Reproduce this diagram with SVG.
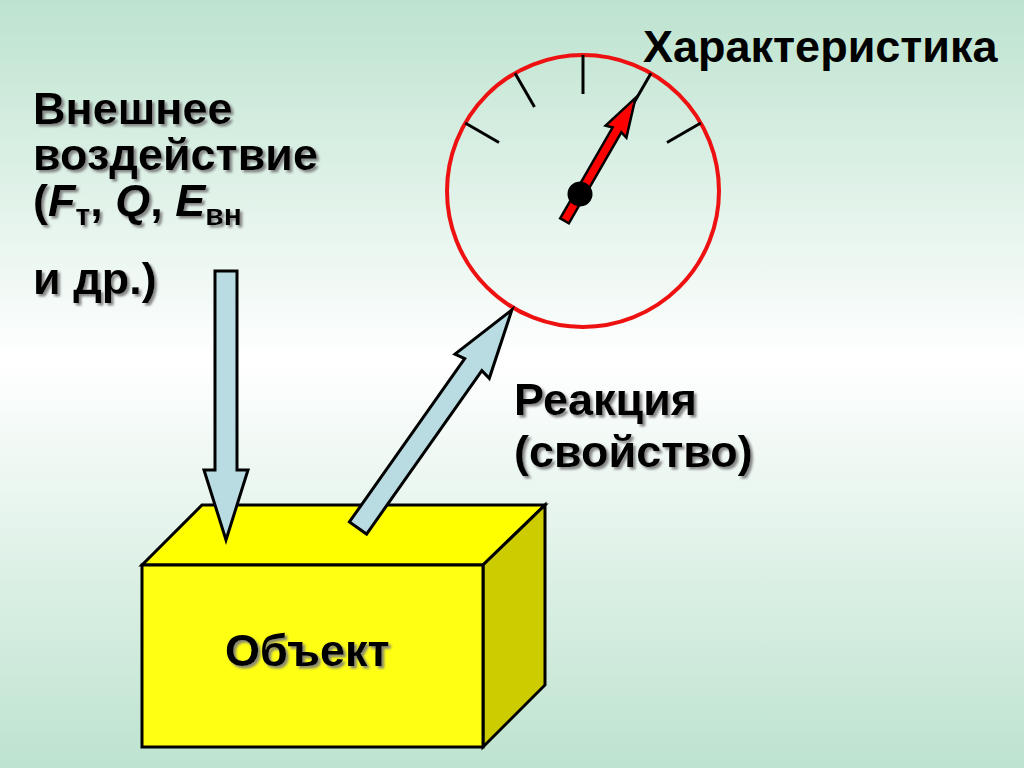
<svg xmlns="http://www.w3.org/2000/svg" width="1024" height="768" viewBox="0 0 1024 768">
  <defs>
    <linearGradient id="bg" x1="0" y1="0" x2="0" y2="1">
      <stop offset="0" stop-color="#bde3cf"/>
      <stop offset="0.47" stop-color="#ffffff"/>
      <stop offset="1" stop-color="#bde3cf"/>
    </linearGradient>
    <filter id="shadow" x="-5%" y="-5%" width="115%" height="130%">
      <feDropShadow dx="2.5" dy="2.5" stdDeviation="0.8" flood-color="#7a7a7a" flood-opacity="0.9"/>
    </filter>
  </defs>
  <style>
    .t { font-family: "Liberation Sans", Arial, sans-serif; font-weight: bold; font-size: 45px; fill: #000; }
    .sh { filter: url(#shadow); }
    .edge { stroke: #000; stroke-width: 3; stroke-linejoin: miter; }
    .blue { fill: #b9dce3; stroke: #000; stroke-width: 3; stroke-linejoin: miter; }
    .tick { stroke: #000; stroke-width: 3; }
  </style>

  <rect x="0" y="0" width="1024" height="768" fill="url(#bg)"/>

  <g id="object">
    <polygon class="edge" fill="#ffff00" points="142,565 202,505 545,505 483,565"/>
    <polygon class="edge" fill="#cccc00" points="483,565 545,505 545,685 483,747"/>
    <rect class="edge" fill="#ffff14" x="142" y="565" width="341" height="182"/>
    <text class="t sh" x="225" y="666">Объект</text>
  </g>

  <g id="gauge">
    <circle cx="583" cy="191" r="136" fill="none" stroke="#ee1111" stroke-width="4"/>
    <g transform="translate(583,191)">
      <line class="tick" x1="0" y1="-97" x2="0" y2="-136"/>
      <line class="tick" x1="0" y1="-97" x2="0" y2="-136" transform="rotate(-30)"/>
      <line class="tick" x1="0" y1="-97" x2="0" y2="-136" transform="rotate(-60)"/>
      <line class="tick" x1="0" y1="-97" x2="0" y2="-136" transform="rotate(30)"/>
      <line class="tick" x1="0" y1="-97" x2="0" y2="-136" transform="rotate(60)"/>
    </g>
    <g transform="translate(580,194) rotate(-60)">
      <polygon fill="#ff0000" stroke="#000" stroke-width="2.5" stroke-linejoin="miter" points="-31,-5 74,-5 72,-12 111,0 72,12 74,5 -31,5"/>
      <circle cx="0" cy="0" r="12.5" fill="#000"/>
    </g>
  </g>

  <g id="connectors">
    <polygon class="blue" points="215,271 237,271 237,470 248,470 226,540 204,470 215,470"/>
    <g transform="translate(358,528) rotate(-54.8)">
      <polygon class="blue" points="0,-10.5 200,-10.5 198,-21 267,0 198,21 200,10.5 0,10.5"/>
    </g>
  </g>

  <g id="label-influence">
    <text class="t sh">
      <tspan x="33" y="124">Внешнее</tspan>
      <tspan x="33" y="170">воздействие</tspan>
      <tspan x="33" y="216">(<tspan font-style="italic">F</tspan><tspan font-size="30" dy="9">т</tspan><tspan dy="-9">, </tspan><tspan font-style="italic">Q</tspan>, <tspan font-style="italic">E</tspan><tspan font-size="30" dy="9">вн</tspan></tspan>
      <tspan x="33" y="294">и др.)</tspan>
    </text>
  </g>

  <g id="label-reaction">
    <text class="t sh">
      <tspan x="514" y="415">Реакция</tspan>
      <tspan x="514" y="467">(свойство)</tspan>
    </text>
  </g>

  <g id="label-characteristic">
    <text class="t" x="643" y="62">Характеристика</text>
  </g>
</svg>
